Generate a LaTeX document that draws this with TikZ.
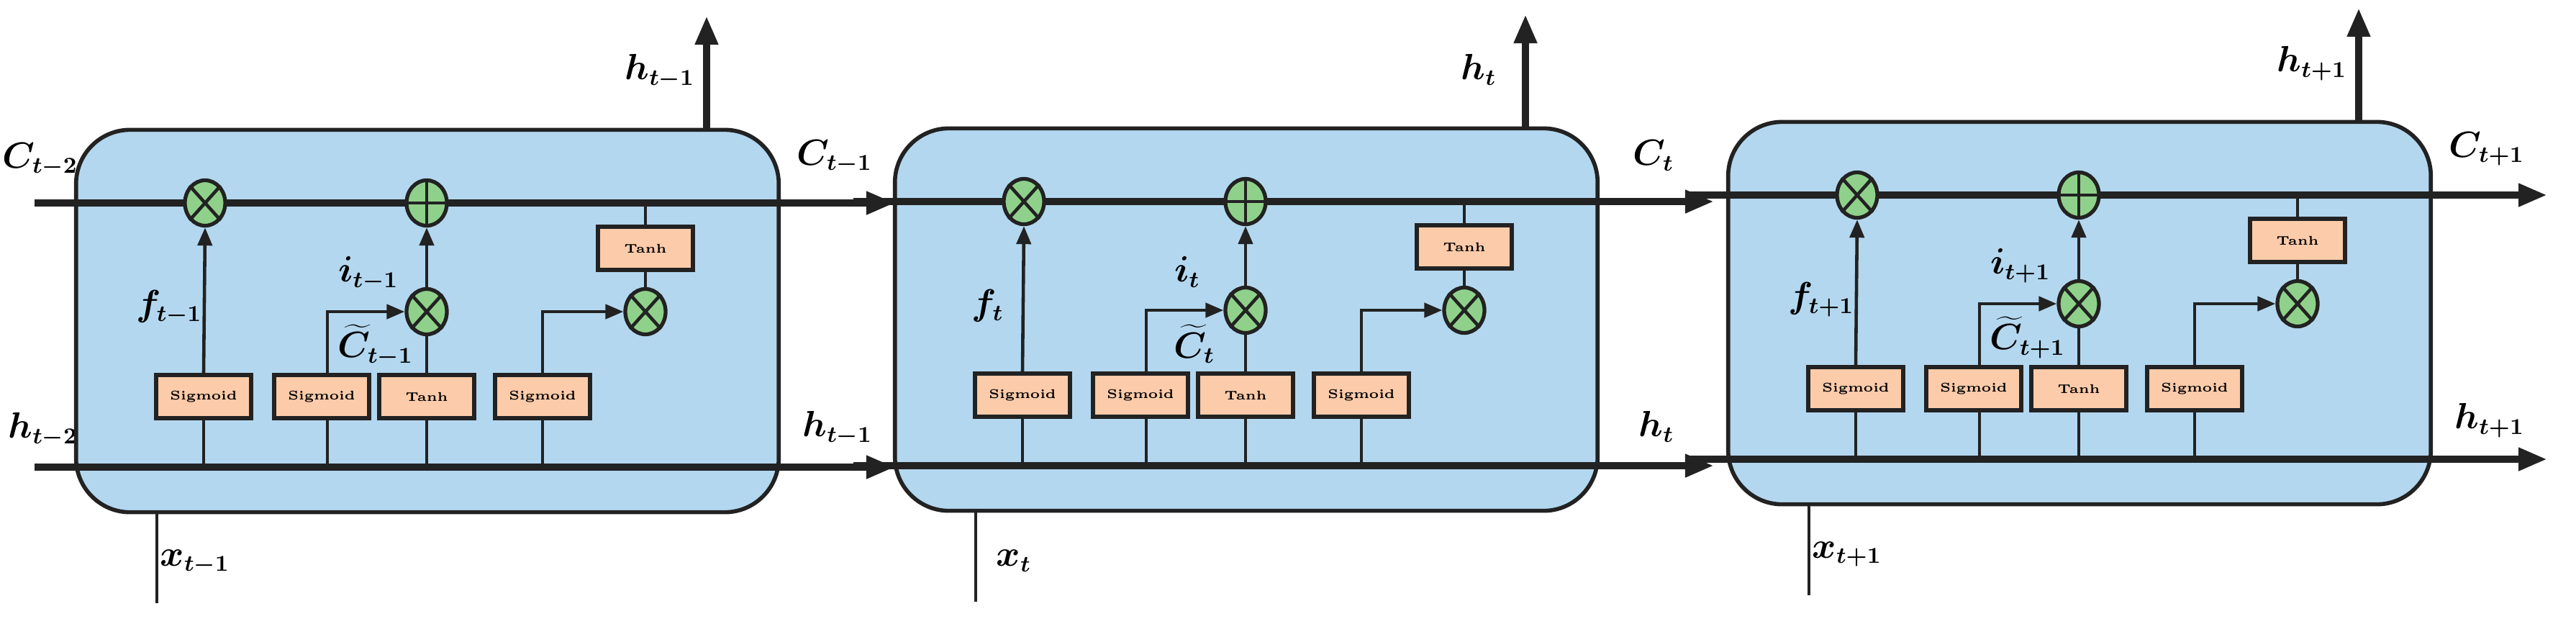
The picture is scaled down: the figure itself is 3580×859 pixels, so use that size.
\documentclass[tikz,border=0pt]{standalone}
\usepackage{bm}
\usetikzlibrary{shapes.geometric,arrows.meta}
\definecolor{cellblue}{HTML}{B3D7EF}
\definecolor{opgreen}{HTML}{8FD18A}
\definecolor{actpeach}{HTML}{FCCBA9}
\definecolor{ink}{HTML}{222222}
\tikzset{
  cell/.style={draw=ink, line width=1.6pt, fill=cellblue, rounded corners=0.75cm},
  bus/.style={draw=ink, line width=3pt, -{Triangle[length=0.4cm,width=0.3cm]}},
  wire/.style={draw=ink, line width=1.3pt},
  warrow/.style={wire, -{Triangle[length=0.25cm,width=0.2cm]}},
  op/.style={ellipse, draw=ink, line width=1.5pt, fill=opgreen, minimum width=0.56cm, minimum height=0.63cm, inner sep=0pt},
  act/.style={rectangle, draw=ink, line width=1.5pt, fill=actpeach, minimum width=1.32cm, minimum height=0.6cm, inner sep=0pt, font=\fontsize{5}{6}\selectfont\bfseries},
  lab/.style={font=\fontsize{13.5}{15}\selectfont, inner sep=0pt}
}
\begin{document}
\begin{tikzpicture}[x=0.01cm,y=-0.01cm]
\useasboundingbox (0,0) rectangle (3580,859);
% left labels
\node[lab] (cin) at (56,222) {$\bm{C_{t-2}}$};
\node[lab] (hin) at (60,597) {$\bm{h_{t-2}}$};
\foreach \i/\dx/\dy/\s in {1/0/0/{t-1}, 2/1138/-2/{t}, 3/2296/-11/{t+1}} {
  \begin{scope}[shift={(\dx,\dy)}]
    \node[cell, minimum width=9.76cm, minimum height=5.31cm] (box\i) at (594,446) {};
    \coordinate (cs\i) at (48,282);
    \coordinate (ce\i) at (1244,282);
    \coordinate (hs\i) at (48,649);
    \coordinate (he\i) at (1244,649);
    \draw[bus] (cs\i) -- (ce\i);
    \draw[bus] (hs\i) -- (he\i);
    % activation boxes
    \node[act] (sf\i) at (283,551) {Sigmoid};
    \node[act] (si\i) at (447,551) {Sigmoid};
    \node[act] (tc\i) at (593,551) {Tanh};
    \node[act] (so\i) at (754,551) {Sigmoid};
    \node[act] (to\i) at (897,345) {Tanh};
    % operators
    \node[op] (mf\i) at (285,282) {};
    \node[op] (pc\i) at (593,282) {};
    \node[op] (mi\i) at (593,433) {};
    \node[op] (mo\i) at (897,433) {};
    \coordinate (hf\i) at (283,649);
    \coordinate (hi\i) at (455,649);
    \coordinate (hc\i) at (593,649);
    \coordinate (ho\i) at (754,649);
    \coordinate (ki\i) at (455,433);
    \coordinate (ko\i) at (754,433);
    \coordinate (ct\i) at (897,282);
    \coordinate (ot\i) at (982,22);
    \coordinate (ob\i) at (982,180);
    \coordinate (xt\i) at (218,711);
    \coordinate (xb\i) at (218,838);
    % wires
    \draw[wire] (hf\i) -- (sf\i.south);
    \draw[wire] (hi\i) -- (si\i.south -| hi\i);
    \draw[wire] (hc\i) -- (tc\i.south);
    \draw[wire] (ho\i) -- (so\i.south);
    \draw[warrow] (sf\i.north) -- (mf\i.south);
    \draw[warrow] (si\i.north -| hi\i) -- (ki\i) -- (mi\i.west);
    \draw[wire] (tc\i.north) -- (mi\i.south);
    \draw[warrow] (mi\i.north) -- (pc\i.south);
    \draw[warrow] (so\i.north) -- (ko\i) -- (mo\i.west);
    \draw[wire] (ct\i) -- (to\i.north);
    \draw[wire] (to\i.south) -- (mo\i.north);
    \draw[bus] (ob\i) -- (ot\i);
    \draw[wire] (xt\i) -- (xb\i);
    % operator marks
    \foreach \n in {mf\i,mi\i,mo\i} {
      \draw[wire] (\n.north east) -- (\n.south west) (\n.north west) -- (\n.south east);
    }
    \draw[wire] (pc\i.north) -- (pc\i.south) (pc\i.west) -- (pc\i.east);
    % labels
    \node[lab] (lc\i) at (1160,218) {$\bm{C_{\s}}$};
    \node[lab] (lh\i) at (1164,595) {$\bm{h_{\s}}$};
    \node[lab] (lo\i) at (917,99) {$\bm{h_{\s}}$};
    \node[lab] (lf\i) at (235,427) {$\bm{f_{\s}}$};
    \node[lab] (li\i) at (512,380) {$\bm{i_{\s}}$};
    \node[lab] (lt\i) at (522,480) {$\bm{\widetilde{C}_{\s}}$};
    \node[lab] (lx\i) at (271,781) {$\bm{x_{\s}}$};
  \end{scope}
}
\end{tikzpicture}
\end{document}
